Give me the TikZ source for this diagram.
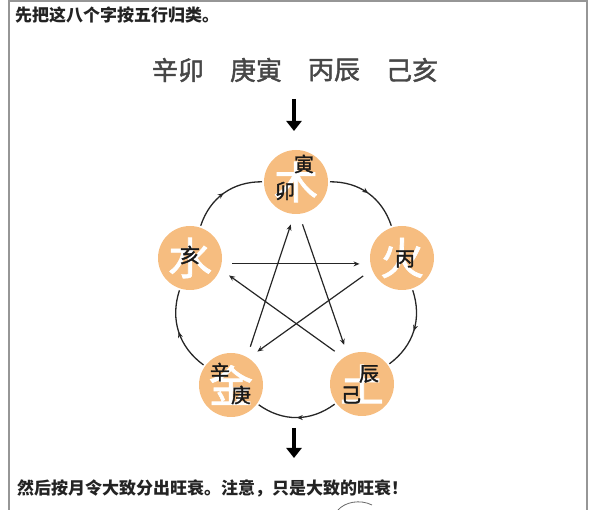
\documentclass[tikz,border=0pt]{standalone}
\usepackage{fontspec}
\newfontfamily\cjk{Noto Sans CJK SC}
\newfontfamily\cjkm[FakeBold=1.6]{Noto Sans CJK SC}
\usetikzlibrary{arrows.meta,decorations.markings}
\definecolor{orng}{RGB}{246,189,128}
\definecolor{framegray}{RGB}{150,150,150}
\definecolor{txt}{RGB}{35,35,35}
\begin{document}
\begin{tikzpicture}[x=1pt,y=-1pt,
  elem/.style={circle, fill=orng, minimum size=64pt, inner sep=0pt, outer sep=2pt,
               text=white, font=\cjkm\fontsize{44}{44}\selectfont},
  zi/.style={text=black!90, font=\cjkm\fontsize{20}{20}\selectfont, inner sep=0pt},
  gz/.style={text=black!72, font=\cjkm\fontsize{26}{26}\selectfont, inner sep=0pt},
  note/.style={text=txt, font=\cjk\bfseries\fontsize{17}{17}\selectfont, anchor=west, inner sep=0pt},
  ring/.style={draw=black!85, line width=1.3pt, postaction={decorate},
    decoration={markings, mark=at position 0.5 with {\arrow{Stealth[length=6pt,width=5pt]}}}},
  ke/.style={draw=black!85, line width=1.2pt, -{Stealth[length=6pt,width=5pt]}, shorten <=9pt, shorten >=9pt},
  bigarrow/.style={line width=4pt, -{Triangle[length=10pt,width=15pt]}}
]
\useasboundingbox (0,0) rectangle (590,510);
\draw[framegray, line width=1.6pt] (9,510) -- (9,1) -- (587,1) -- (587,510);

\node[note] (t1) at (15,15) {先把这八个字按五行归类。};

\node[gz] (g1) at (178,70) {辛卯};
\node[gz] (g2) at (256,70) {庚寅};
\node[gz] (g3) at (334,70) {丙辰};
\node[gz] (g4) at (412,70) {己亥};

\coordinate (a1s) at (294,99);
\coordinate (a1e) at (294,131);
\draw[bigarrow] (a1s) -- (a1e);

% element circles
\node[elem] (mu)   at (296,182) {木};
\node[elem] (huo)  at (402,258) {火};
\node[elem] (tu)   at (362,384) {土};
\node[elem] (jin)  at (231,385) {金};
\node[elem] (shui) at (190,258) {水};

% branch / stem labels
\node[zi] (yin)  at (304,164) {寅};
\node[zi] (mao)  at (285,191) {卯};
\node[zi] (bing) at (405,259) {丙};
\node[zi] (chen) at (369,374) {辰};
\node[zi] (ji)   at (351,395) {己};
\node[zi] (xin)  at (220,372) {辛};
\node[zi] (geng) at (241,395) {庚};
\node[zi] (hai)  at (190,255) {亥};

% generating cycle (outer ring)
\draw[ring] (mu) to[bend left=36] (huo);
\draw[ring] (huo) to[bend left=36] (tu);
\draw[ring] (tu) to[bend left=36] (jin);
\draw[ring] (jin) to[bend left=36] (shui);
\draw[ring] (shui) to[bend left=36] (mu);

% controlling cycle (star)
\draw[ke] (jin.61) -- (mu.266);
\draw[ke] (mu.276) -- (tu.116);
\draw[ke] (shui.350) -- (huo.190);
\draw[ke] (huo.202) -- (jin.56);
\draw[ke] (tu.126) -- (shui.339);

\coordinate (a2s) at (294,428);
\coordinate (a2e) at (294,458);
\draw[bigarrow] (a2s) -- (a2e);

\node[note] (t2) at (17,488) {然后按月令大致分出旺衰。注意，只是大致的旺衰！};

\draw[black!60, line width=0.8pt] (338,510) .. controls (345,502) and (360,499) .. (372,505);
\end{tikzpicture}
\end{document}
